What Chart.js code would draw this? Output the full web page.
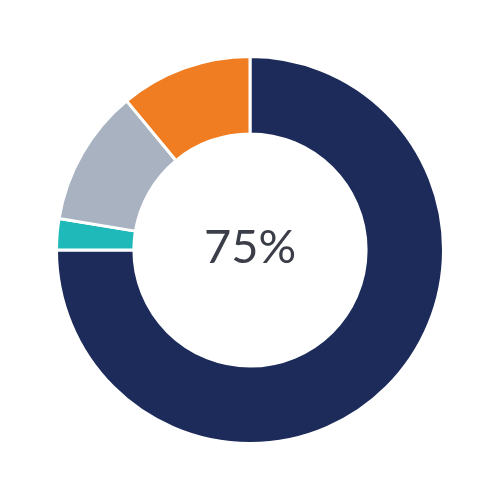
<!DOCTYPE html>
<html>
<head>
<meta charset="utf-8">
<script src="https://cdn.jsdelivr.net/npm/chart.js@4"></script>
<style>
  html, body { margin: 0; padding: 0; background: #fff; }
  #wrap { width: 500px; height: 500px; }
</style>
</head>
<body>
<div id="wrap"><canvas id="donut"></canvas></div>
<script>
// chart data
const labels = ['A', 'B', 'C', 'D'];
const values = [75, 2.6, 11.4, 11];
const colors = ['#1c2b5a', '#1fb9b9', '#a8b2c0', '#f07d22'];
const centerLabel = '75%';

// draws the percentage in the hole
const centerText = {
    id: 'centerText',
    afterDraw(chart) {
        const ctx = chart.ctx;
        const meta = chart.getDatasetMeta(0).data[0];
        ctx.save();
        ctx.font = '400 47px Lato';
        ctx.fillStyle = '#3b3e48';
        ctx.textAlign = 'center';
        ctx.textBaseline = 'alphabetic';
        ctx.fillText(centerLabel, meta.x, meta.y + 13);
        ctx.restore();
    }
};

new Chart(document.getElementById('donut'), {
    type: 'doughnut',
    data: {
        labels: labels,
        datasets: [{
            data: values,
            backgroundColor: colors,
            borderColor: '#ffffff',
            borderWidth: 3
        }]
    },
    options: {
        responsive: true,
        maintainAspectRatio: false,
        animation: false,
        cutout: '60%',
        layout: { padding: 55 },
        plugins: {
            legend: { display: false },
            tooltip: { enabled: false }
        }
    },
    plugins: [centerText]
});
</script>
</body>
</html>
